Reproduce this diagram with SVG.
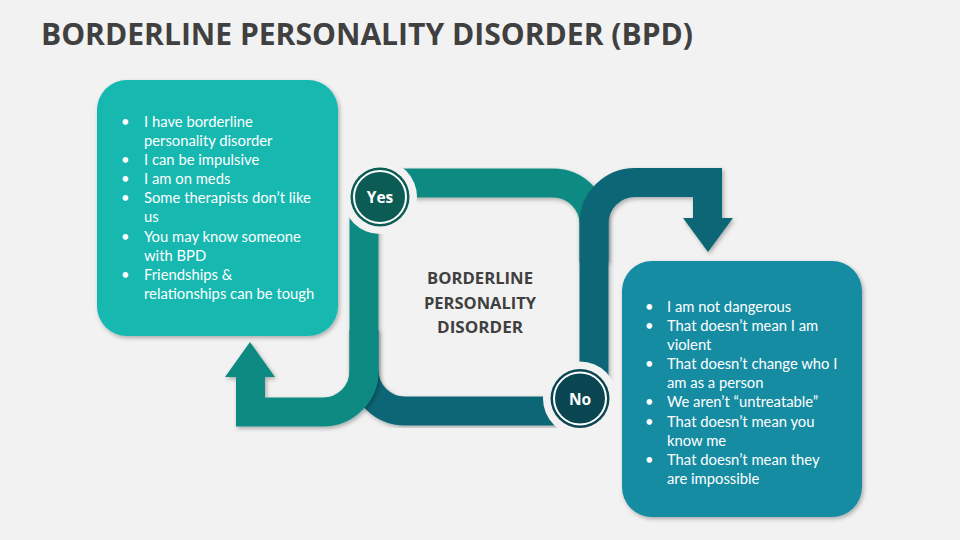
<svg xmlns="http://www.w3.org/2000/svg" width="960" height="540" viewBox="0 0 960 540">
<defs>
<filter id="sh" x="-20%" y="-20%" width="140%" height="140%">
<feDropShadow dx="1.5" dy="2" stdDeviation="2" flood-color="#000" flood-opacity="0.3"/>
</filter>
<style>
.title{font-family:"Open Sans","DejaVu Sans",sans-serif;font-weight:700;font-size:30px;fill:#404040}
.body{font-family:Lato,"Open Sans",sans-serif;font-size:14.8px;fill:#ffffff}
.center{font-family:"Open Sans","DejaVu Sans",sans-serif;font-weight:700;font-size:16.5px;fill:#404040;text-anchor:middle}
.lbl{font-family:"Open Sans","DejaVu Sans",sans-serif;font-weight:700;font-size:15.5px;fill:#ffffff;text-anchor:middle}
.band{fill:none;stroke-width:29;stroke-linejoin:miter;stroke-linecap:butt}
.teal{stroke:#0f8b82}
.dark{stroke:#0e6676}
.halo{fill:#f2f2f2}
.ring{fill:none;stroke:#ffffff;stroke-width:2}
</style>
</defs>
<rect x="0" y="0" width="960" height="540" fill="#f2f2f2"/>
<text class="title" x="41" y="45" textLength="652" lengthAdjust="spacingAndGlyphs">BORDERLINE PERSONALITY DISORDER (BPD)</text>

<g id="box-left">
<rect x="97" y="80" width="241" height="256" rx="30" fill="#13b8b0" filter="url(#sh)"/>
<g class="body">
<text x="121" y="127">•</text><text x="144" y="127">I have borderline</text>
<text x="144" y="146">personality disorder</text>
<text x="121" y="165">•</text><text x="144" y="165">I can be impulsive</text>
<text x="121" y="184">•</text><text x="144" y="184">I am on meds</text>
<text x="121" y="203">•</text><text x="144" y="203">Some therapists don’t like</text>
<text x="144" y="222">us</text>
<text x="121" y="242">•</text><text x="144" y="242">You may know someone</text>
<text x="144" y="261">with BPD</text>
<text x="121" y="280">•</text><text x="144" y="280">Friendships &amp;</text>
<text x="144" y="299">relationships can be tough</text>
</g>
</g>

<g id="box-right">
<rect x="622" y="261" width="240" height="256" rx="30" fill="#148ca3" filter="url(#sh)"/>
<g class="body">
<text x="645" y="312">•</text><text x="667" y="312">I am not dangerous</text>
<text x="645" y="331">•</text><text x="667" y="331">That doesn’t mean I am</text>
<text x="667" y="350">violent</text>
<text x="645" y="369">•</text><text x="667" y="369">That doesn’t change who I</text>
<text x="667" y="388">am as a person</text>
<text x="645" y="407">•</text><text x="667" y="407">We aren’t “untreatable”</text>
<text x="645" y="427">•</text><text x="667" y="427">That doesn’t mean you</text>
<text x="667" y="446">know me</text>
<text x="645" y="465">•</text><text x="667" y="465">That doesn’t mean they</text>
<text x="667" y="484">are impossible</text>
</g>
</g>

<g id="connectors">
<path class="band dark" d="M575,411 H405 A41,41 0 0 1 364,370 V330" filter="url(#sh)"/>
<path class="band teal" d="M395,183 H553 A41,41 0 0 1 594,224 V262" filter="url(#sh)"/>
<g filter="url(#sh)">
<path class="band dark" d="M594,400 V223 A41,41 0 0 1 635,182.5 H707.5 V219"/>
<polygon points="683,218 733,218 708,252" fill="#0e6676"/>
</g>
<g filter="url(#sh)">
<path class="band teal" d="M364,215 V371 A41,41 0 0 1 323,412 H250.5 V376"/>
<polygon points="225,377 275,377 250,342" fill="#0f8b82"/>
</g>
</g>

<g id="yes">
<circle class="halo" cx="380" cy="197" r="37"/>
<circle cx="380" cy="197" r="29.5" fill="#0b5c55"/>
<circle class="ring" cx="380" cy="197" r="26"/>
<text class="lbl" x="380" y="203">Yes</text>
</g>

<g id="no">
<circle class="halo" cx="580" cy="398.5" r="37"/>
<circle cx="580" cy="398.5" r="29.5" fill="#094652"/>
<circle class="ring" cx="580" cy="398.5" r="26"/>
<text class="lbl" x="580" y="404.5" font-size="16.5">No</text>
</g>

<g id="center-label">
<text class="center" x="480" y="284" textLength="106" lengthAdjust="spacingAndGlyphs">BORDERLINE</text>
<text class="center" x="480" y="309" textLength="112" lengthAdjust="spacingAndGlyphs">PERSONALITY</text>
<text class="center" x="480" y="333" textLength="86" lengthAdjust="spacingAndGlyphs">DISORDER</text>
</g>
</svg>
